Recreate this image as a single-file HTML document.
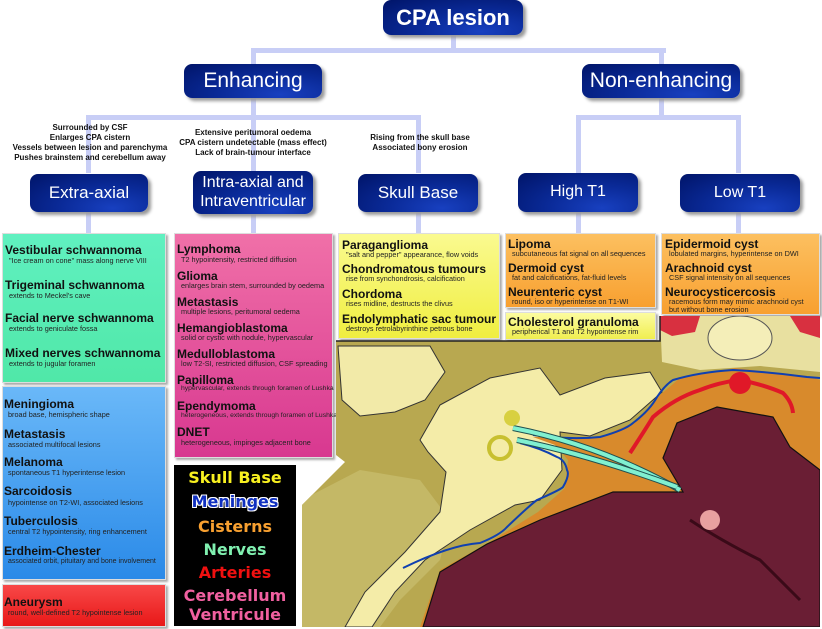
<!DOCTYPE html>
<html><head><meta charset="utf-8"><style>
body{margin:0;width:822px;height:629px;background:#fff;position:relative;overflow:hidden;font-family:"Liberation Sans",Arial,sans-serif}
.hb{position:absolute;border-radius:8px;background:radial-gradient(ellipse at 70% 90%,#1840c0 0%,#0a2a98 45%,#001468 100%);color:#fff;font-family:"Liberation Sans",sans-serif;text-align:center;box-shadow:3px 3px 3px #999;display:flex;align-items:center;justify-content:center;line-height:1.15}
.c{position:absolute;background:#c8cef6}
.box{position:absolute;box-shadow:2px 2px 2px #aaa;border:1px solid #ddd;box-sizing:border-box}
.t{position:absolute;font-weight:bold;font-size:12px;color:#111;white-space:nowrap;line-height:1}
.s{position:absolute;font-size:7.3px;color:#222;white-space:nowrap;line-height:1}
.n{position:absolute;font-weight:bold;font-size:8px;color:#111;text-align:center;line-height:10px;white-space:nowrap}
.lg{position:absolute;left:174px;width:122px;text-align:center;font-weight:bold;font-size:16px;line-height:1;font-family:"DejaVu Sans",sans-serif}
</style></head><body>
<div class="c" style="left:451px;top:34px;width:5px;height:18px"></div>
<div class="c" style="left:251px;top:48px;width:415px;height:5px"></div>
<div class="c" style="left:251px;top:48px;width:5px;height:16px"></div>
<div class="c" style="left:659px;top:48px;width:5px;height:16px"></div>
<div class="c" style="left:251px;top:97px;width:5px;height:21px"></div>
<div class="c" style="left:86px;top:115px;width:335px;height:5px"></div>
<div class="c" style="left:86px;top:115px;width:5px;height:58px"></div>
<div class="c" style="left:251px;top:115px;width:5px;height:56px"></div>
<div class="c" style="left:416px;top:115px;width:5px;height:58px"></div>
<div class="c" style="left:659px;top:97px;width:5px;height:21px"></div>
<div class="c" style="left:576px;top:115px;width:165px;height:5px"></div>
<div class="c" style="left:576px;top:115px;width:5px;height:58px"></div>
<div class="c" style="left:736px;top:115px;width:5px;height:58px"></div>
<div class="c" style="left:86px;top:212px;width:5px;height:21px"></div>
<div class="c" style="left:251px;top:214px;width:5px;height:19px"></div>
<div class="c" style="left:416px;top:212px;width:5px;height:21px"></div>
<div class="c" style="left:576px;top:212px;width:5px;height:21px"></div>
<div class="c" style="left:736px;top:212px;width:5px;height:21px"></div>

<div class="hb" style="left:383px;top:0;width:140px;height:35px;font-size:22px;font-weight:bold">CPA lesion</div>
<div class="hb" style="left:184px;top:64px;width:138px;height:34px;font-size:21px">Enhancing</div>
<div class="hb" style="left:582px;top:64px;width:158px;height:34px;font-size:21px">Non-enhancing</div>
<div class="hb" style="left:30px;top:174px;width:118px;height:38px;font-size:17px">Extra-axial</div>
<div class="hb" style="left:193px;top:171px;width:120px;height:43px;font-size:16px">Intra-axial and<br>Intraventricular</div>
<div class="hb" style="left:358px;top:174px;width:120px;height:38px;font-size:17px">Skull Base</div>
<div class="hb" style="left:518px;top:173px;width:120px;height:39px;font-size:16px">High T1</div>
<div class="hb" style="left:680px;top:174px;width:120px;height:38px;font-size:16px">Low T1</div>

<div class="n" style="left:0;width:180px;top:123px">Surrounded by CSF<br>Enlarges CPA cistern<br>Vessels between lesion and parenchyma<br>Pushes brainstem and cerebellum away</div>
<div class="n" style="left:163px;width:180px;top:128px">Extensive peritumoral oedema<br>CPA cistern undetectable (mass effect)<br>Lack of brain-tumour interface</div>
<div class="n" style="left:340px;width:160px;top:133px">Rising from the skull base<br>Associated bony erosion</div>

<div class="box" style="left:2px;top:233px;width:164px;height:150px;background:linear-gradient(#60f0c0,#50e8a8)"></div>
<div class="t" style="left:5px;top:244px">Vestibular schwannoma</div><div class="s" style="left:9px;top:257px">"Ice cream on cone" mass along nerve VIII</div>
<div class="t" style="left:5px;top:279px">Trigeminal schwannoma</div><div class="s" style="left:9px;top:292px">extends to Meckel's cave</div>
<div class="t" style="left:5px;top:312px">Facial nerve schwannoma</div><div class="s" style="left:9px;top:325px">extends to geniculate fossa</div>
<div class="t" style="left:5px;top:347px">Mixed nerves schwannoma</div><div class="s" style="left:9px;top:360px">extends to jugular foramen</div>
<div class="box" style="left:2px;top:386px;width:164px;height:194px;background:linear-gradient(#6ab8f8,#2a8ae8)"></div>
<div class="t" style="left:4px;top:398px">Meningioma</div><div class="s" style="left:8px;top:411px">broad base, hemispheric shape</div>
<div class="t" style="left:4px;top:428px">Metastasis</div><div class="s" style="left:8px;top:441px">associated multifocal lesions</div>
<div class="t" style="left:4px;top:456px">Melanoma</div><div class="s" style="left:8px;top:469px">spontaneous T1 hyperintense lesion</div>
<div class="t" style="left:4px;top:485px">Sarcoidosis</div><div class="s" style="left:8px;top:499px">hypointense on T2-WI, associated lesions</div>
<div class="t" style="left:4px;top:515px">Tuberculosis</div><div class="s" style="left:8px;top:528px">central T2 hypointensity, ring enhancement</div>
<div class="t" style="left:4px;top:545px">Erdheim-Chester</div><div class="s" style="left:8px;top:558px;font-size:7px">associated orbit, pituitary and bone involvement</div>
<div class="box" style="left:2px;top:584px;width:164px;height:43px;background:linear-gradient(#f84848,#e81818)"></div>
<div class="t" style="left:4px;top:596px">Aneurysm</div><div class="s" style="left:8px;top:609px">round, well-defined T2 hypointense lesion</div>
<div class="box" style="left:174px;top:233px;width:159px;height:225px;background:linear-gradient(#f070a8,#d83890)"></div>
<div class="t" style="left:177px;top:243px">Lymphoma</div><div class="s" style="left:181px;top:256px">T2 hypointensity, restricted diffusion</div>
<div class="t" style="left:177px;top:270px">Glioma</div><div class="s" style="left:181px;top:282px">enlarges brain stem, surrounded by oedema</div>
<div class="t" style="left:177px;top:296px">Metastasis</div><div class="s" style="left:181px;top:308px">multiple lesions, peritumoral oedema</div>
<div class="t" style="left:177px;top:322px">Hemangioblastoma</div><div class="s" style="left:181px;top:334px">solid or cystic with nodule, hypervascular</div>
<div class="t" style="left:177px;top:348px">Medulloblastoma</div><div class="s" style="left:181px;top:360px">low T2-SI, restricted diffusion, CSF spreading</div>
<div class="t" style="left:177px;top:374px">Papilloma</div><div class="s" style="left:181px;top:386px;font-size:6.8px">hypervascular, extends through foramen of Lushka</div>
<div class="t" style="left:177px;top:400px">Ependymoma</div><div class="s" style="left:181px;top:413px;font-size:6.8px">heterogeneous, extends through foramen of Lushka</div>
<div class="t" style="left:177px;top:426px">DNET</div><div class="s" style="left:181px;top:439px">heterogeneous, impinges adjacent bone</div>
<div style="position:absolute;left:174px;top:465px;width:122px;height:161px;background:#000"></div>
<div class="lg" style="top:470px;color:#f8f020">Skull Base</div>
<div class="lg" style="top:494px;color:#1030c0;text-shadow:-1px -1px 0 #fff,1px -1px 0 #fff,-1px 1px 0 #fff,1px 1px 0 #fff">Meninges</div>
<div class="lg" style="top:519px;color:#f8a030">Cisterns</div>
<div class="lg" style="top:542px;color:#80f0b0">Nerves</div>
<div class="lg" style="top:565px;color:#f01010">Arteries</div>
<div class="lg" style="top:588px;color:#f060a0">Cerebellum</div>
<div class="lg" style="top:607px;color:#f060a0">Ventricule</div>
<div class="box" style="left:338px;top:233px;width:162px;height:106px;background:linear-gradient(#fafa90,#f0ee40)"></div>
<div class="t" style="left:342px;top:239px">Paraganglioma</div><div class="s" style="left:346px;top:251px">"salt and pepper" appearance, flow voids</div>
<div class="t" style="left:342px;top:263px">Chondromatous tumours</div><div class="s" style="left:346px;top:275px">rise from synchondrosis, calcification</div>
<div class="t" style="left:342px;top:288px">Chordoma</div><div class="s" style="left:346px;top:300px">rises midline, destructs the clivus</div>
<div class="t" style="left:342px;top:313px">Endolymphatic sac tumour</div><div class="s" style="left:346px;top:325px">destroys retrolabyrinthine petrous bone</div>
<div class="box" style="left:505px;top:233px;width:151px;height:75px;background:linear-gradient(#fcc060,#f8a030)"></div>
<div class="t" style="left:508px;top:238px">Lipoma</div><div class="s" style="left:512px;top:250px">subcutaneous fat signal on all sequences</div>
<div class="t" style="left:508px;top:262px">Dermoid cyst</div><div class="s" style="left:512px;top:274px">fat and calcifications, fat-fluid levels</div>
<div class="t" style="left:508px;top:286px">Neurenteric cyst</div><div class="s" style="left:512px;top:298px">round, iso or hyperintense on T1-WI</div>
<div class="box" style="left:505px;top:312px;width:151px;height:28px;background:linear-gradient(#fcfca0,#f0ee50)"></div>
<div class="t" style="left:508px;top:316px">Cholesterol granuloma</div><div class="s" style="left:512px;top:328px">peripherical T1 and T2 hypointense rim</div>
<div class="box" style="left:661px;top:233px;width:159px;height:82px;background:linear-gradient(#fcc060,#f8a030)"></div>
<div class="t" style="left:665px;top:238px">Epidermoid cyst</div><div class="s" style="left:669px;top:250px">lobulated margins, hyperintense on DWI</div>
<div class="t" style="left:665px;top:262px">Arachnoid cyst</div><div class="s" style="left:669px;top:274px">CSF signal intensity on all sequences</div>
<div class="t" style="left:665px;top:286px">Neurocysticercosis</div><div class="s" style="left:669px;top:298px">racemous form may mimic arachnoid cyst</div><div class="s" style="left:669px;top:306px">but without bone erosion</div>
<svg style="position:absolute;left:0;top:0" width="822" height="629">
<defs><clipPath id="cl"><polygon points="336,341 660,341 660,316 820,316 820,627 302,627 302,505 345,462 336,455"/></clipPath></defs>
<g clip-path="url(#cl)">
<rect x="300" y="310" width="522" height="320" fill="#b8a850"/>
<polygon points="302,500 360,470 420,480 450,520 440,560 400,600 380,627 302,627" fill="#c4b866"/>
<polygon points="338,346 430,346 445,372 425,400 395,412 360,416 342,400" fill="#f2eaa8" stroke="#333" stroke-width="1"/>
<polygon points="440,405 490,378 540,368 560,395 605,378 650,372 662,392 630,420 590,436 560,432 562,470 540,500 515,505 470,530 425,560 395,592 372,627 345,627 365,592 405,552 440,512 446,472 428,452 420,440" fill="#f4eca8" stroke="#333" stroke-width="1"/>
<polygon points="660,316 820,316 820,372 760,366 700,370 662,362" fill="#e8e0a0"/>
<ellipse cx="740" cy="338" rx="32" ry="22" fill="#f4eeb8" stroke="#555" stroke-width="1"/>
<polygon points="660,316 700,316 695,332 672,336 660,330" fill="#d83040"/>
<polygon points="790,316 820,316 820,338 800,332" fill="#d83040"/>
<polygon points="420,627 440,570 488,543 538,512 565,488 568,460 555,445 533,437 600,437 635,422 660,395 680,378 735,368 808,376 820,380 820,627" fill="#d88a2c"/>
<polygon points="423,627 440,572 487,544 540,520 613,492 683,492 663,458 677,423 717,407 773,417 790,447 820,470 820,627" fill="#6a1e34" stroke="#111" stroke-width="1.2"/>
<path d="M690,520 Q720,540 760,560 L800,600" stroke="#3a0a18" stroke-width="3" fill="none"/>
<path d="M403,568 Q450,545 480,543 Q500,535 507,527 Q530,505 537,500 Q560,490 563,487 Q570,475 567,470 Q565,460 557,457 Q540,448 520,443" stroke="#1040b0" stroke-width="2" fill="none"/>
<path d="M533,435 Q570,440 600,437 Q625,430 633,423 Q650,410 657,397 Q665,385 673,380 Q700,372 733,370 Q770,372 807,377 L820,378" stroke="#1040b0" stroke-width="2" fill="none"/>
<path d="M630,453 Q645,430 653,417 Q675,398 700,390 Q720,382 740,380 Q765,385 783,393 Q792,402 793,413" stroke="#e01828" stroke-width="4" fill="none"/>
<circle cx="740" cy="383" r="11" fill="#e01828"/>
<path d="M513,428 Q600,445 680,490" stroke="#205050" stroke-width="6" fill="none"/>
<path d="M513,428 Q600,445 680,490" stroke="#80f0d0" stroke-width="4" fill="none"/>
<path d="M517,440 Q590,455 677,487" stroke="#205050" stroke-width="6" fill="none"/>
<path d="M517,440 Q590,455 677,487" stroke="#80f0d0" stroke-width="4" fill="none"/>
<circle cx="500" cy="448" r="11" fill="none" stroke="#c8c030" stroke-width="4"/>
<circle cx="512" cy="418" r="8" fill="#d8d040"/>
<circle cx="710" cy="520" r="10" fill="#e8a0a0"/>
</g>
<polyline points="336,341 660,341 660,316" fill="none" stroke="#222" stroke-width="1.5"/>
</svg>
</body></html>
